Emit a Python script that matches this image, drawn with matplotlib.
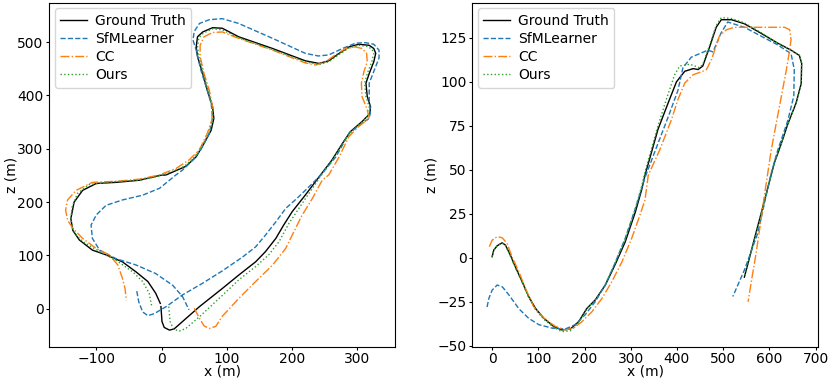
import matplotlib
matplotlib.use("Agg")
import matplotlib.pyplot as plt
import numpy as np

plt.rcParams['font.size'] = 10
plt.rcParams['xtick.major.size'] = 2.5
plt.rcParams['ytick.major.size'] = 2.5
plt.rcParams['xtick.major.pad'] = 1.5
plt.rcParams['ytick.major.pad'] = 1.7

# ---------- sequence A (left) : (x, z) in metres ----------
gt_a = [(-1, 4), (0.6, -24), (4, -35), (12, -40), (19, -38), (32, -24), (58, 4), (93, 38),
        (118, 63), (144, 88), (159, 107), (175, 132), (187, 157), (200, 182), (220, 213),
        (241, 247), (261, 279), (277, 310), (289, 332), (307, 351), (319, 366), (320, 379),
        (315, 398), (313, 423), (318, 441), (325, 463), (328, 479), (325, 488), (318, 494),
        (302, 496), (287, 491), (272, 479), (256, 465), (241, 460), (220, 465), (170, 488),
        (118, 510), (93, 526), (78, 527), (63, 519), (55, 510), (53, 491), (55, 473),
        (63, 441), (70, 410), (78, 379), (80, 357), (76, 335), (65, 310), (53, 285),
        (37, 267), (7, 251), (-3, 250), (-34, 241), (-70, 237), (-100, 235), (-121, 222),
        (-134, 200), (-139, 169), (-136, 147), (-126, 129), (-106, 110), (-85, 101),
        (-60, 88), (-39, 69), (-21, 51), (-9, 29), (-2, 10)]

sfm_a = [(-38, 33), (-35, 13), (-29, -6), (-21, -13), (-11, -9), (7, 4), (32, 26), (63, 48),
         (93, 71), (124, 97), (144, 116), (159, 138), (175, 163), (190, 188), (210, 210),
         (231, 235), (244, 251), (267, 285), (287, 329), (307, 348), (318, 357), (320, 370),
         (318, 391), (318, 423), (325, 445), (333, 470), (333, 485), (325, 496), (312, 499),
         (297, 498), (277, 488), (256, 476), (240, 474), (220, 479), (170, 507), (118, 535),
         (93, 544), (73, 542), (58, 535), (50, 520), (48, 504), (53, 485), (60, 448),
         (68, 417), (76, 385), (78, 357), (73, 329), (60, 298), (48, 279), (32, 260),
         (22, 251), (-3, 226), (-29, 213), (-60, 204), (-85, 194), (-100, 176), (-108, 157),
         (-106, 132), (-95, 110), (-70, 94), (-39, 82), (-9, 66), (17, 44), (32, 23), (42, -2)]

cc_a = [(50, 1), (58, -18), (65, -32), (73, -37), (83, -33), (93, -14), (118, 19), (144, 51),
        (170, 82), (190, 113), (200, 138), (215, 175), (231, 207), (246, 241), (256, 251),
        (272, 285), (287, 323), (302, 342), (318, 357), (315, 373), (307, 398), (306, 423),
        (310, 445), (315, 463), (314, 479), (307, 488), (297, 491), (282, 488), (266, 476),
        (251, 463), (236, 457), (220, 461), (170, 485), (118, 507), (93, 519), (78, 518),
        (65, 510), (59, 494), (59, 473), (65, 441), (73, 410), (78, 379), (77, 354),
        (70, 329), (58, 298), (42, 279), (22, 263), (-3, 251), (-34, 243), (-70, 239),
        (-106, 237), (-131, 222), (-144, 204), (-147, 185), (-144, 166), (-136, 151),
        (-121, 132), (-100, 113), (-80, 101), (-67, 82), (-60, 57), (-56, 38), (-54, 16)]

ours_a = [(11, 4), (13, -24), (18, -38), (27, -42), (37, -37), (58, -15), (93, 25), (118, 54),
          (144, 79), (164, 101), (180, 126), (195, 160), (215, 197), (241, 244), (260, 277),
          (276, 308), (289, 330), (306, 349), (318, 364), (318, 379), (313, 398), (311, 423),
          (315, 441), (322, 463), (325, 479), (322, 487), (315, 492), (302, 494), (287, 489),
          (272, 477), (256, 463), (241, 458), (220, 463), (170, 486), (118, 508), (93, 523),
          (78, 525), (64, 517), (57, 508), (55, 491), (57, 473), (64, 441), (71, 410),
          (78, 379), (79, 357), (75, 335), (64, 310), (51, 285), (35, 267), (5, 252),
          (-3, 249), (-34, 241), (-70, 238.5), (-111, 233), (-129, 216), (-137, 191),
          (-139, 169), (-135, 144), (-121, 126), (-95, 107), (-70, 91), (-44, 69), (-29, 51),
          (-19, 29), (-15, 4)]

# ---------- sequence B (right) ----------
gt_b = [(0, 0.6), (3.6, 4.4), (10.8, 6.8), (21.6, 8.5), (28.8, 7.2), (39.5, 1.5), (50, -5),
        (65, -13.6), (79, -22), (94, -28.8), (112, -34.4), (133, -39), (151, -41),
        (169, -40.5), (187, -36.4), (205, -28.8), (223, -24), (245, -15.5), (266, -4),
        (288, 9), (310, 26), (324, 39), (331, 47), (359, 73), (381, 88), (399, 100),
        (417, 106), (435, 107.5), (446, 107), (456, 109), (471, 120), (485, 131),
        (496, 135.3), (518, 135.3), (546, 133), (582, 127.6), (618, 122), (647, 118),
        (665, 115), (670, 110.5), (669, 99), (658, 88), (640, 76), (626, 65), (611, 54),
        (604, 47), (575, 18), (546, -11)]

sfm_b = [(-11, -28), (-7, -23), (0, -18.4), (11, -15.5), (22, -16.5), (36, -21), (58, -29),
         (79, -34.4), (101, -38), (130, -40), (158, -40.5), (180, -38), (201, -32.5),
         (223, -25), (245, -15.5), (266, -3), (288, 11), (310, 28), (330, 45), (359, 65),
         (381, 80), (402, 95), (413, 108), (431, 114), (449, 116), (467, 118), (478, 117),
         (496, 128), (510, 134), (546, 131), (582, 126), (618, 121), (647, 116), (654, 107),
         (653, 92), (640, 78), (618, 61), (603, 47), (575, 14), (546, -7), (521, -22)]

cc_b = [(-6, 6.3), (0, 10), (10.8, 12), (21.6, 11.4), (32.4, 8.2), (43, 0.6), (58, -8),
        (72, -17.4), (90, -27.8), (112, -34.4), (137, -39), (158, -41), (176, -40.1),
        (194, -36.4), (216, -30.7), (238, -23), (259, -13.6), (281, -2.3), (302, 11),
        (320, 24.3), (331, 33), (338, 47), (363, 61.4), (388, 78.4), (402, 89.8), (417, 99.3),
        (435, 104), (456, 106), (464, 107), (475, 112.8), (492, 126), (507, 129.6),
        (525, 131), (633, 131), (644, 129.6), (647, 124), (644, 118), (637, 107),
        (626, 91.7), (615, 76.5), (604, 61), (596, 47), (588, 33), (580, 18), (571, 2),
        (562, -12), (554, -25)]

ours_b = [(0, 0.6), (3.6, 4.4), (10.8, 7), (21.6, 8.5), (28.8, 7), (39.5, 1), (50, -5.5),
          (65, -14), (79, -22.5), (94, -29.5), (112, -35), (133, -39.5), (151, -42),
          (169, -41.5), (187, -37), (205, -29), (223, -24), (245, -15), (266, -3),
          (288, 10.5), (310, 28), (324, 41), (331, 49), (359, 75), (377, 90), (395, 104),
          (406, 109), (428, 110), (449, 108), (456, 110), (471, 121), (485, 132),
          (496, 136.5), (518, 136), (546, 133.5), (582, 128), (618, 122), (647, 118),
          (665, 115), (670, 110.5), (669, 99), (658, 88), (640, 76), (626, 65), (611, 54),
          (604, 47), (575, 18), (546, -11)]

labels = ["Ground Truth", "SfMLearner", "CC", "Ours"]
styles = [("k", "-"), ("C0", "--"), ("C1", "-."), ("C2", ":")]


def draw(ax, tracks, xlim, ylim, ylab_x):
    for tr, lab, (c, ls) in zip(tracks, labels, styles):
        arr = np.array(tr)
        ax.plot(arr[:, 0], arr[:, 1], color=c, linestyle=ls, lw=1.0, label=lab)
    ax.set_xlim(*xlim)
    ax.set_ylim(*ylim)
    ax.set_xlabel("x (m)")
    ax.set_ylabel("z (m)")
    ax.xaxis.set_label_coords(0.5, -0.053)
    ax.yaxis.set_label_coords(ylab_x, 0.5)
    ax.legend(loc="upper left", borderaxespad=0.4, labelspacing=0.3,
              handletextpad=0.6, handlelength=1.9)


fig = plt.figure(figsize=(8.3, 3.78), dpi=100)
ax1 = fig.add_axes([0.0594, 0.083, 0.4169, 0.910])
ax2 = fig.add_axes([0.569, 0.083, 0.4169, 0.910])

draw(ax1, [gt_a, sfm_a, cc_a, ours_a], (-172, 358), (-71, 574), -0.09)
draw(ax2, [gt_b, sfm_b, cc_b, ours_b], (-43, 706), (-50.5, 145), -0.098)
ax1.set_xticks([-100, 0, 100, 200, 300])
ax2.set_yticks([-50, -25, 0, 25, 50, 75, 100, 125])

fig.savefig("out.png", dpi=100)
